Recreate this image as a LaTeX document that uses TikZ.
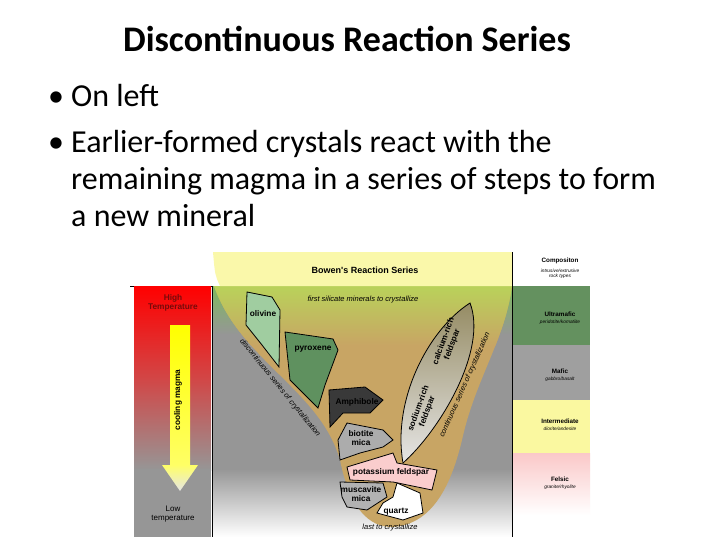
\documentclass[tikz,border=0pt]{standalone}
\usepackage{fontspec}
\setmainfont{Carlito}
\newfontfamily\dfont{Liberation Sans}
\definecolor{band}{RGB}{250,248,170}
\definecolor{tanc}{RGB}{200,165,100}
\definecolor{ygc}{RGB}{185,210,90}
\definecolor{bgg}{RGB}{125,185,95}
\definecolor{grayb}{RGB}{150,150,150}
\definecolor{ultra}{RGB}{100,145,95}
\definecolor{interm}{RGB}{250,248,160}
\definecolor{pinkc}{RGB}{250,200,200}
\definecolor{olc}{RGB}{160,205,160}
\definecolor{pyc}{RGB}{95,145,95}
\definecolor{kfc}{RGB}{250,205,205}
\definecolor{cac}{RGB}{150,140,100}
\definecolor{redm}{RGB}{210,70,70}
\definecolor{htc}{RGB}{120,10,10}
\begin{document}
\begin{tikzpicture}[x=1pt,y=-1pt,
  blob/.style={draw=black,line width=0.8pt},
  lab/.style={font=\dfont\bfseries\fontsize{8.3}{9.3}\selectfont,align=center,inner sep=0pt},
  ital/.style={font=\dfont\itshape\fontsize{7.5}{8}\selectfont,inner sep=0pt},
  rlab/.style={font=\dfont\bfseries\fontsize{6.3}{7}\selectfont,inner sep=0pt},
  rsub/.style={font=\dfont\itshape\fontsize{4.8}{5.5}\selectfont,inner sep=0pt,align=center},
  bul/.style={anchor=base west,font=\fontsize{32}{36}\selectfont,inner sep=0pt}]
\useasboundingbox (0,0) rectangle (720,540);
\fill[white] (0,0) rectangle (720,540);
\node[font=\bfseries\fontsize{36}{40}\selectfont,anchor=base] (title) at (347,52) {Discontinuous Reaction Series};
\node[bul] (d1) at (48,107) {•};
\node[bul] (b1) at (71,107) {On left};
\node[bul] (d2) at (48,153) {•};
\node[bul] (b2) at (71,153) {Earlier-formed crystals react with the};
\node[bul] (b3) at (71,190) {remaining magma in a series of steps to form};
\node[bul] (b4) at (71,226) {a new mineral};
% middle background
\shade[top color=bgg, bottom color=grayb] (212,286) rectangle (512,335);
\fill[grayb] (212,334) rectangle (512,470);
\shade[top color=grayb, bottom color=white] (212,469) rectangle (512,537);
% funnel
\begin{scope}
\clip (214,286) .. controls (240,360) and (320,390) .. (340,460) .. controls (350,510) and (370,527) .. (392,527)
 .. controls (430,525) and (450,490) .. (462,440) .. controls (475,380) and (505,340) .. (512,286) -- cycle;
\fill[tanc] (212,286) rectangle (512,537);
\shade[top color=ygc, bottom color=tanc] (212,286) rectangle (512,345);
\end{scope}
% top band
\fill[band] (213,252) -- (512,252) -- (512,286) -- (220,286) .. controls (215,275) .. (213,252);
\draw (512,252) -- (512,537);
\draw (130,286) -- (212,286) (512,286) -- (590,286);
\draw (212,286) -- (212,537);
% left bar
\shade[top color=red, bottom color=grayb, middle color=redm] (134,286) rectangle (211,470);
\fill[grayb] (134,469) rectangle (211,537);
\shade[top color=yellow, bottom color=yellow!60!white] (170,325) rectangle (190,466);
\shade[top color=yellow!60!white, bottom color=gray!20] (162,465) -- (198,465) -- (180,491) -- cycle;
% right column
\fill[ultra] (513,286) rectangle (590,345);
\fill[gray!75] (513,345) rectangle (590,400);
\fill[interm] (513,400) rectangle (590,453);
\shade[top color=pinkc, bottom color=white] (513,453) rectangle (590,515);
% minerals
\draw[blob,fill=olc] (247,292) -- (272,297) -- (280,310) -- (279,367) -- (262,345) -- (246,325) -- cycle;
\draw[blob,fill=pyc] (285,332) -- (333,339) -- (338,350) -- (325,385) -- (318,408) -- (290,380) -- cycle;
\draw[blob,fill=gray!45!black] (329,390) -- (365,387) -- (383,400) -- (370,413) -- (343,413) -- (330,427) -- cycle;
\draw[blob,fill=gray!65] (347,423) -- (383,430) -- (393,440) -- (383,447) -- (360,453) -- (340,460) -- (338,440) -- cycle;
\draw[blob,fill=kfc] (347,467) -- (393,453) -- (397,463) -- (437,470) -- (432,490) -- (393,482) -- (350,480) -- cycle;
\draw[blob,fill=gray!60] (340,482) -- (383,483) -- (387,497) -- (367,510) -- (347,507) -- (342,497) -- cycle;
\draw[blob,fill=white] (397,483) -- (420,493) -- (423,513) -- (403,520) -- (377,513) -- (383,503) -- (393,497) -- cycle;
\shade[draw=black,line width=0.8pt,top color=cac,bottom color=gray!20] (470,303) .. controls (488,350) and (440,430) .. (403,463) .. controls (392,400) and (428,330) .. (470,303) -- cycle;
% labels
\node[font=\dfont\bfseries\fontsize{9}{10}\selectfont] (brs) at (365,270) {Bowen's Reaction Series};
\node[ital] (first) at (363,300) {first silicate minerals to crystallize};
\node[ital] (last) at (390,528) {last to crystallize};
\node[ital,rotate=-51] (disc) at (280,388) {discontinuous series of crystallization};
\node[ital,rotate=66] (cont) at (465,385) {continuous series of crystallization};
\node[lab,rotate=70] (ca) at (448,343) {calcium-rich\\feldspar};
\node[lab,rotate=70] (na) at (423,410) {sodium-rich\\feldspar};
\node[lab] (ol) at (263,314) {olivine};
\node[lab] (py) at (313,349) {pyroxene};
\node[lab] (am) at (357,402) {Amphibole};
\node[lab] (bi) at (361,438) {biotite\\mica};
\node[lab] (kf) at (391,472) {potassium feldspar};
\node[lab] (mu) at (361,494) {muscavite\\mica};
\node[lab] (qz) at (396,512) {quartz};
\node[lab,text=htc] (ht) at (173,303) {High\\Temperature};
\node[lab,rotate=90] (cm) at (178,400) {cooling magma};
\node[lab,font=\dfont\fontsize{8}{9.5}\selectfont] (lt) at (173,514) {Low\\temperature};
\node[rlab] (c1) at (560,261) {Compositon};
\node[rsub] (c2) at (560,274) {intrusive/extrusive\\rock types};
\node[rlab] (u1) at (560,314) {Ultramafic};
\node[rsub] (u2) at (560,322) {peridotite/komatiite};
\node[rlab] (m1) at (560,371) {Mafic};
\node[rsub] (m2) at (560,379) {gabbro/basalt};
\node[rlab] (i1) at (560,421) {Intermediate};
\node[rsub] (i2) at (560,429) {diorite/andesite};
\node[rlab] (f1) at (560,479) {Felsic};
\node[rsub] (f2) at (560,487) {granite/rhyolite};
\end{tikzpicture}
\end{document}
